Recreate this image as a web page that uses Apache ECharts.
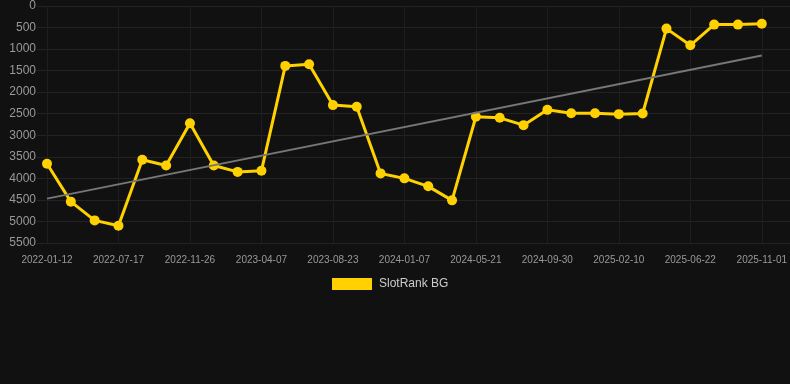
<!DOCTYPE html>
<html>
<head>
<meta charset="utf-8">
<script src="https://cdn.jsdelivr.net/npm/echarts@6/dist/echarts.min.js"></script>
<style>html,body{margin:0;padding:0;background:#111111;}#c{width:790px;height:384px;}</style>
</head>
<body>
<div id="c"></div>
<script>
var categories = [
  '2022-01-12','2022-03-15','2022-05-16','2022-07-17','2022-08-30','2022-10-13',
  '2022-11-26','2023-01-09','2023-02-22','2023-04-07','2023-05-23','2023-07-08',
  '2023-08-23','2023-10-08','2023-11-22','2024-01-07','2024-02-21','2024-04-06',
  '2024-05-21','2024-07-04','2024-08-17','2024-09-30','2024-11-13','2024-12-27',
  '2025-02-10','2025-03-26','2025-05-09','2025-06-22','2025-08-05','2025-09-18',
  '2025-11-01'
];
var rankValues = [
  3660, 4540, 4975, 5100, 3570, 3700,
  2720, 3700, 3850, 3825, 1390, 1350,
  2300, 2340, 3885, 4000, 4185, 4510,
  2570, 2595, 2765, 2410, 2488, 2490,
  2510, 2495, 525, 912, 432, 432,
  410
];
var trendEnds = [4470, 1150];
var yTicks = { min: 0, max: 5500, interval: 500 };
var seriesName = 'SlotRank BG';

var font = 'Liberation Sans, Arial, sans-serif';
var chart = echarts.init(document.getElementById('c'));
chart.setOption({
  backgroundColor: '#111111',
  animation: false,
  textStyle: { fontFamily: font },
  grid: [
    { left: 47, right: 28, top: 6, bottom: 141 },
    { left: 37, right: 0, top: 6, bottom: 141 }
  ],
  legend: {
    data: [seriesName],
    top: 273,
    left: 327,
    icon: 'rect',
    itemWidth: 40,
    itemHeight: 12,
    itemGap: 10,
    textStyle: { color: '#cccccc', fontSize: 12, fontFamily: font, padding: [0, 0, 0, 2] }
  },
  xAxis: [
    {
      type: 'category',
      gridIndex: 0,
      data: categories,
      boundaryGap: false,
      axisLine: { show: false },
      axisTick: { show: false },
      axisLabel: { color: '#999999', fontSize: 10, interval: 2, margin: 12, fontFamily: font },
      splitLine: { show: true, interval: 2, lineStyle: { color: '#1e1e1e', width: 1 } }
    },
    {
      type: 'value',
      gridIndex: 1,
      show: false,
      min: 0,
      max: 1
    }
  ],
  yAxis: [
    {
      type: 'value',
      gridIndex: 0,
      inverse: true,
      min: yTicks.min,
      max: yTicks.max,
      interval: yTicks.interval,
      show: false
    },
    {
      type: 'value',
      gridIndex: 1,
      inverse: true,
      min: yTicks.min,
      max: yTicks.max,
      interval: yTicks.interval,
      axisLine: { show: false },
      axisTick: { show: false },
      axisLabel: {
        color: '#999999', fontSize: 12, margin: 1, fontFamily: font,
        formatter: function (v) { return String(v); }
      },
      splitLine: { show: true, lineStyle: { color: '#232323', width: 1 } }
    }
  ],
  series: [
    {
      name: seriesName,
      type: 'line',
      xAxisIndex: 0,
      yAxisIndex: 0,
      data: rankValues,
      symbol: 'circle',
      symbolSize: 10,
      lineStyle: { color: '#FFD100', width: 3 },
      itemStyle: { color: '#FFD100' },
      z: 3,
      markLine: {
        silent: true,
        symbol: 'none',
        label: { show: false },
        lineStyle: { color: '#777777', width: 2, type: 'solid' },
        data: [[
          { coord: [categories[0], trendEnds[0]] },
          { coord: [categories[categories.length - 1], trendEnds[1]] }
        ]]
      }
    }
  ]
});
</script>
</body>
</html>
